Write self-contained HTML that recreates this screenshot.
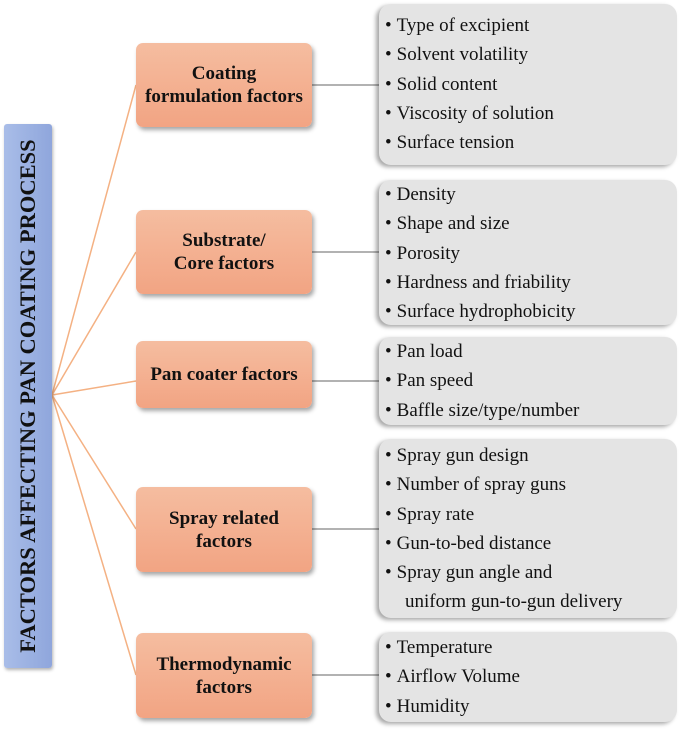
<!DOCTYPE html>
<html><head><style>
body{margin:0;width:685px;height:734px;background:#fff;position:relative;overflow:hidden;font-family:"Liberation Serif",serif;}
.o{position:absolute;left:136px;width:176px;border-radius:7px;background:linear-gradient(#f5bda0,#f2a483);box-shadow:2px 3px 4px rgba(0,0,0,.35);display:flex;align-items:center;justify-content:center;text-align:center;font-weight:bold;font-size:19px;line-height:23px;color:#111;}
.g{position:absolute;left:379px;width:298px;border-radius:12px;background:#e4e4e4;box-shadow:-3px 2px 4px rgba(0,0,0,.35);font-size:19px;color:#111;box-sizing:border-box;padding-left:6px;}
.g div{height:29.3px;line-height:29.3px;white-space:nowrap;}
.g div:before{content:"\2022";margin-right:5px;}
.bar{position:absolute;left:4px;top:124px;width:48px;height:544px;background:linear-gradient(90deg,#a9bde8,#8fa6dc);border-radius:3px;box-shadow:1px 2px 3px rgba(0,0,0,.3);}
.bar span{position:absolute;left:50%;top:50%;transform:translate(-50%,-50%) rotate(-90deg);white-space:nowrap;font-weight:bold;font-size:22.5px;color:#111;}
</style></head><body>
<svg width="685" height="734" style="position:absolute;left:0;top:0">
<g stroke="#f4b183" stroke-width="1.5" fill="none">
<line x1="52" y1="395" x2="136" y2="85"/><line x1="52" y1="395" x2="136" y2="252"/><line x1="52" y1="395" x2="136" y2="381"/><line x1="52" y1="395" x2="136" y2="529"/><line x1="52" y1="395" x2="136" y2="675"/>
</g>
<g stroke="#999" stroke-width="1.5">
<line x1="312" y1="85" x2="379" y2="85"/><line x1="312" y1="252" x2="379" y2="252"/><line x1="312" y1="381" x2="379" y2="381"/><line x1="312" y1="529" x2="379" y2="529"/><line x1="312" y1="675" x2="379" y2="675"/>
</g></svg>
<div class="bar"><span>FACTORS AFFECTING PAN COATING PROCESS</span></div>
<div class="o" style="top:43px;height:84px">Coating<br>formulation factors</div>
<div class="o" style="top:210px;height:84px">Substrate/<br>Core factors</div>
<div class="o" style="top:341px;height:67px">Pan coater factors</div>
<div class="o" style="top:487px;height:85px">Spray related<br>factors</div>
<div class="o" style="top:633px;height:85px">Thermodynamic<br>factors</div>
<div class="g" style="top:4px;height:161px;padding-top:7px"><div>Type of excipient</div><div>Solvent volatility</div><div>Solid content</div><div>Viscosity of solution</div><div>Surface tension</div></div>
<div class="g" style="top:180px;height:145px;padding-top:-1px"><div>Density</div><div>Shape and size</div><div>Porosity</div><div>Hardness and friability</div><div>Surface hydrophobicity</div></div>
<div class="g" style="top:337px;height:88px;padding-top:0"><div>Pan load</div><div>Pan speed</div><div>Baffle size/type/number</div></div>
<div class="g" style="top:439px;height:179px;padding-top:2px"><div>Spray gun design</div><div>Number of spray guns</div><div>Spray rate</div><div>Gun-to-bed distance</div><div>Spray gun angle and</div><div style="padding-left:20px">uniform gun-to-gun delivery</div></div>
<div class="g" style="top:632px;height:90px;padding-top:1px"><div>Temperature</div><div>Airflow Volume</div><div>Humidity</div></div>
<style>.g div[style]:before{content:none}</style>
</body></html>
